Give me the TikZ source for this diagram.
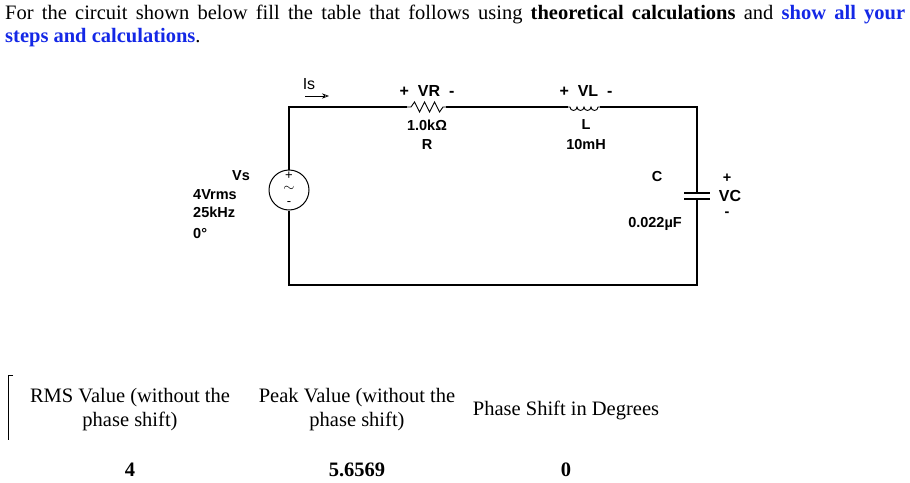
\documentclass[tikz,border=0pt]{standalone}
\usepackage{fontspec}
\setmainfont{Liberation Serif}
\newfontfamily\cf{Liberation Sans}
\usetikzlibrary{arrows.meta}
\definecolor{blu}{RGB}{20,40,230}
\tikzset{lbl/.style={font=\cf\bfseries\fontsize{14.5}{15}\selectfont,inner sep=0pt},
 big/.style={font=\cf\bfseries\fontsize{16}{16}\selectfont,inner sep=0pt},
 txt/.style={font=\fontsize{20.5}{24}\selectfont,inner sep=0pt},
 wire/.style={line width=1.2pt}}
\begin{document}
\begin{tikzpicture}[x=1pt,y=-1pt]
\useasboundingbox (0,0) rectangle (910,482);
\node[txt,anchor=west,text width=900,align=justify] (t1) at (5,14) {\parfillskip=0pt For the circuit shown below fill the table that follows using \textbf{theoretical calculations} and \textcolor{blu}{\textbf{show all your}}\par};
\node[txt,anchor=west] (t2) at (5,38) {\textcolor{blu}{\textbf{steps and calculations}}.};
% circuit
\coordinate (tl) at (289,107); \coordinate (tr) at (697,107);
\coordinate (bl) at (289,285); \coordinate (br) at (697,285);
\node[circle,draw,line width=1pt,minimum size=40,inner sep=0] (src) at (289,190) {};
\node[font=\Large,inner sep=0] (tilde) at (289,189) {$\sim$};
\node[lbl,font=\cf\fontsize{13}{13}\selectfont] (sp) at (289,176) {+};
\node[lbl,font=\cf\fontsize{13}{13}\selectfont] (sm) at (289,204) {-};
\coordinate (r1) at (407,107); \coordinate (r2) at (446,107);
\coordinate (l1) at (568,107); \coordinate (l2) at (600,107);
\coordinate (c1) at (697,193); \coordinate (c2) at (697,199);
\draw[wire] (src.north) -- (tl) -- (r1);
\draw[line width=0.9pt] (r1) -- ++(4,0) -- ++(3.5,-5) -- ++(5,10) -- ++(5,-10) -- ++(5,10) -- ++(5,-10) -- ++(5,10) -- ++(3.5,-5) -- (r2);
\draw[wire] (r2) -- (l1);
\draw[line width=0.9pt] (l1) -- ++(2,0) \foreach \i in {1,...,4}{ arc[start angle=180,end angle=0,radius=3.5] } -- (l2);
\draw[wire] (l2) -- (tr) -- (c1);
\draw[line width=1.5pt] (684,193) -- (710,193) (684,199) -- (710,199);
\draw[wire] (c2) -- (br) -- (bl) -- (src.south);
\draw[-{Stealth[open,length=7pt]},line width=0.7pt] (305,96) -- (329,96);
\node[big,font=\cf\fontsize{16}{16}\selectfont] (is) at (309,84) {Is};
\node[big] (vr) at (427,91) {+ \ VR \ -};
\node[lbl] (rv) at (427,125) {1.0kΩ};
\node[lbl] (rn) at (427,145) {R};
\node[big] (vl) at (586,91) {+ \ VL \ -};
\node[lbl] (ln) at (586,125) {L};
\node[lbl] (lv) at (586,145) {10mH};
\node[lbl] (cn) at (657,177) {C};
\node[lbl] (cv) at (655,224) {0.022µF};
\node[lbl] (vp) at (727,178) {+};
\node[big] (vc) at (730,196) {VC};
\node[lbl] (vm) at (727,214) {-};
\node[lbl] (vs) at (241,176) {Vs};
\node[lbl,anchor=west] (s1) at (193,195) {4Vrms};
\node[lbl,anchor=west] (s2) at (193,212) {25kHz};
\node[lbl,anchor=west] (s3) at (193,234) {0°};
% table
\draw[line width=0.8pt] (13,375) -- (8,375) -- (8,440);
\node[txt,align=center] (h1) at (130,410) {RMS Value (without the\\phase shift)};
\node[txt,align=center] (h2) at (357,410) {Peak Value (without the\\phase shift)};
\node[txt] (h3) at (566,410) {Phase Shift in Degrees};
\node[txt] (v1) at (130,470) {\textbf{4}};
\node[txt] (v2) at (357,470) {\textbf{5.6569}};
\node[txt] (v3) at (566,470) {\textbf{0}};
\end{tikzpicture}
\end{document}
